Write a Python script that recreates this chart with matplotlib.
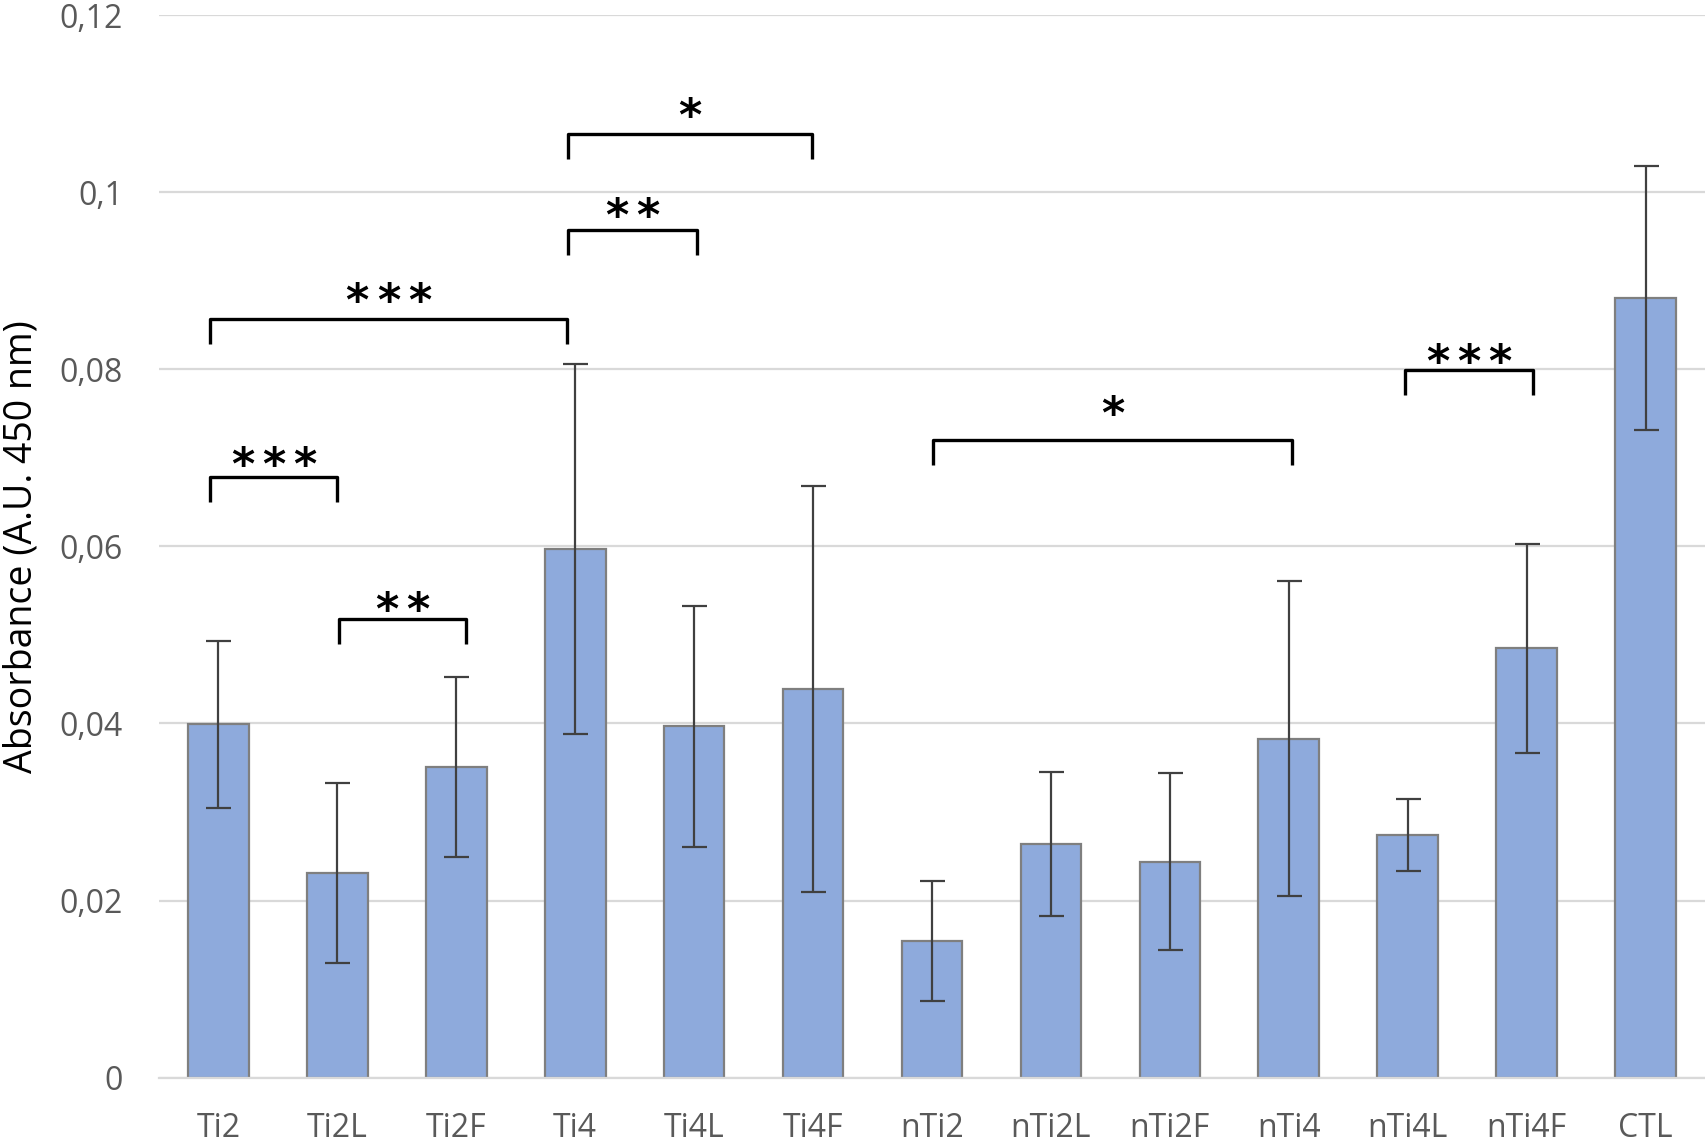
import matplotlib

matplotlib.use("Agg")
import matplotlib.pyplot as plt
import numpy as np

# --- data -------------------------------------------------------------------
groups = ["Ti2", "Ti2L", "Ti2F", "Ti4", "Ti4L", "Ti4F",
          "nTi2", "nTi2L", "nTi2F", "nTi4", "nTi4L", "nTi4F", "CTL"]
absorbance = [0.0399, 0.0231, 0.0351, 0.0597, 0.0397, 0.0439,
              0.0154, 0.0264, 0.0244, 0.0383, 0.0274, 0.0485, 0.0881]
err = [0.0094, 0.0102, 0.0102, 0.0209, 0.0136, 0.0229,
       0.0068, 0.0081, 0.0100, 0.0178, 0.0041, 0.0118, 0.0149]

# significance brackets: left / right (category position), top, star centre
br_left = [-0.07, 1.01, -0.07, 2.94, 2.94, 6.01, 9.98]
br_right = [1.0, 2.08, 2.93, 4.02, 4.99, 9.03, 11.05]
br_top = [0.0678, 0.0518, 0.0857, 0.0957, 0.1066, 0.0720, 0.0799]
star_y = [0.0701, 0.0538, 0.0886, 0.0982, 0.1095, 0.0759, 0.0818]
n_stars = [3, 2, 3, 2, 1, 1, 3]
LEG = 0.0028

yticks = [0, 0.02, 0.04, 0.06, 0.08, 0.10, 0.12]
ytick_labels = ["0", "0,02", "0,04", "0,06", "0,08", "0,1", "0,12"]

BAR = "#8eaadc"
BAR_EDGE = "#7f7f7f"
ERR = "#404040"
GRID = "#d9d9d9"
TICK = "#595959"
STAR_FS = 32
STAR_STEP = 22.5  # points between asterisks

plt.rcParams["font.family"] = ["Open Sans", "DejaVu Sans"]

fig = plt.figure(figsize=(17.05, 11.4), dpi=100)
ax = fig.add_axes([159 / 1705, 62.4 / 1140, 1 - 159 / 1705, 1062.4 / 1140])

x = np.arange(len(groups))
ax.bar(x, absorbance, width=0.51, color=BAR, edgecolor=BAR_EDGE,
       linewidth=1.6, zorder=2)
ax.errorbar(x, absorbance, yerr=err, fmt="none", ecolor=ERR,
            elinewidth=1.6, capsize=9, capthick=1.6, zorder=3)

for xl, xr, top, sy, n in zip(br_left, br_right, br_top, star_y, n_stars):
    ax.plot([xl, xl, xr, xr], [top - LEG, top, top, top - LEG],
            color="black", linewidth=2.4, solid_joinstyle="round",
            solid_capstyle="butt", zorder=4, clip_on=False)
    for k in range(n):
        dx = (k - (n - 1) / 2) * STAR_STEP
        ax.annotate("*", ((xl + xr) / 2, sy), xytext=(dx, -0.5 * STAR_FS),
                    textcoords="offset points", ha="center", va="baseline",
                    fontsize=STAR_FS, family="DejaVu Sans", weight="bold",
                    color="black")

ax.set_xlim(-0.5, 12.5)
ax.set_ylim(0, 0.12)
ax.set_yticks(yticks, ytick_labels)
ax.set_xticks(x, groups)
ax.tick_params(axis="both", length=0, colors=TICK, labelsize=23)
ax.tick_params(axis="y", pad=26)
ax.tick_params(axis="x", pad=24.5)
ax.grid(axis="y", color=GRID, linewidth=1.6, zorder=0)
ax.set_axisbelow(True)
for side in ["top", "right", "left"]:
    ax.spines[side].set_visible(False)
ax.spines["bottom"].set_color(GRID)
ax.spines["bottom"].set_linewidth(1.6)

ax.set_ylabel("Absorbance (A.U. 450 nm)", fontsize=27, color="black")
ax.yaxis.set_label_coords((41 - 159) / 1546, 0.5)

fig.savefig("out.png", dpi=100)
